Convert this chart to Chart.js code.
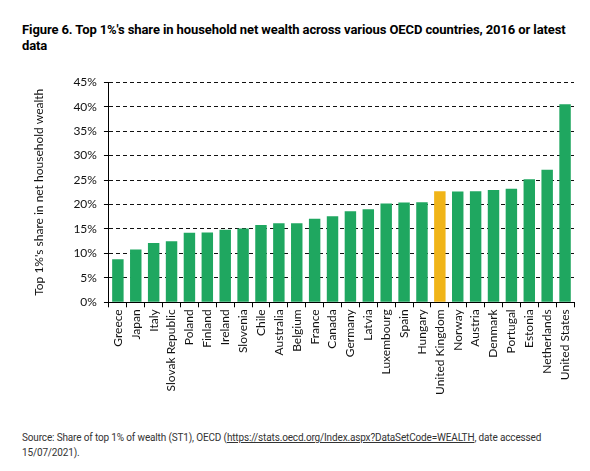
<!DOCTYPE html>
<html>
<head>
<meta charset="utf-8">
<script src="https://cdn.jsdelivr.net/npm/chart.js@4"></script>
<style>
  body { margin: 0; background: #fff; width: 590px; height: 471px; position: relative; overflow: hidden; }
  #title { position: absolute; left: 22px; top: 22px; width: 560px; font: bold 13px "Roboto", sans-serif; line-height: 16px; color: #000; letter-spacing: -0.1px; }
  #wrap { position: absolute; left: 0; top: 68px; width: 590px; height: 329px; }
  #source { position: absolute; left: 22px; top: 430px; width: 566px; font: 10px "Roboto", sans-serif; line-height: 15px; color: #333; letter-spacing: -0.15px; }
  #source u { text-decoration: underline; }
</style>
</head>
<body>
<div id="title">Figure 6. Top 1%'s share in household net wealth across various OECD countries, 2016 or latest data</div>
<div id="wrap"><canvas id="chart"></canvas></div>
<div id="source">Source: Share of top 1% of wealth (ST1), OECD (<u>https://stats.oecd.org/Index.aspx?DataSetCode=WEALTH</u>, date accessed 15/07/2021).</div>
<script>
const countries = ['Greece', 'Japan', 'Italy', 'Slovak Republic', 'Poland', 'Finland', 'Ireland', 'Slovenia',
  'Chile', 'Australia', 'Belgium', 'France', 'Canada', 'Germany', 'Latvia', 'Luxembourg', 'Spain', 'Hungary',
  'United Kingdom', 'Norway', 'Austria', 'Denmark', 'Portugal', 'Estonia', 'Netherlands', 'United States'];
const shares = [8.8, 10.8, 12.1, 12.5, 14.2, 14.25, 14.85, 15.1, 15.8, 16.15, 16.15, 17.1, 17.6, 18.6, 19.0,
  20.2, 20.4, 20.45, 22.7, 22.65, 22.7, 22.95, 23.2, 25.15, 27.1, 40.5];
const highlight = 'United Kingdom';

const green = '#1fa760';
const yellow = '#f0b418';

const ctx = document.getElementById('chart');

new Chart(ctx, {
  type: 'bar',
  data: {
    labels: countries,
    datasets: [{
      data: shares,
      backgroundColor: countries.map(c => c === highlight ? yellow : green),
      categoryPercentage: 1,
      barPercentage: 0.64
    }]
  },
  options: {
    maintainAspectRatio: false,
    animation: false,
    layout: { padding: { left: 32, right: 16, top: 7, bottom: 0 } },
    plugins: {
      legend: { display: false },
      tooltip: { enabled: false }
    },
    scales: {
      x: {
        grid: {
          drawOnChartArea: false,
          drawTicks: true,
          tickLength: 5,
          tickColor: '#000',
          offset: true
        },
        border: { color: '#000', width: 1 },
        ticks: {
          minRotation: 90,
          maxRotation: 90,
          autoSkip: false,
          padding: 2,
          color: '#111',
          font: { family: 'Lato', size: 12 }
        }
      },
      y: {
        min: 0,
        max: 45,
        grid: {
          color: '#111',
          tickColor: '#000',
          tickLength: 5
        },
        border: { color: '#000', width: 1, dash: [4, 3] },
        ticks: {
          stepSize: 5,
          padding: 7,
          color: '#111',
          font: { family: 'Lato', size: 12 },
          callback: v => v + '%'
        },
        title: {
          display: true,
          text: "Top 1%'s share in net household wealth",
          color: '#111',
          font: { family: 'Lato', size: 12 },
          padding: { top: 0, bottom: 20 }
        }
      }
    }
  }
});
</script>
</body>
</html>
